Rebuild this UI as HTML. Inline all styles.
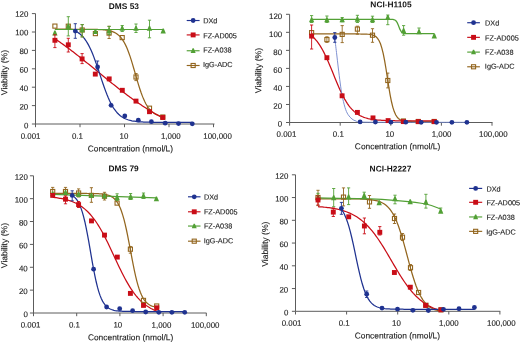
<!DOCTYPE html>
<html><head><meta charset="utf-8"><style>
html,body{margin:0;padding:0;background:#fff;overflow:hidden;}
svg{display:block;font-family:"Liberation Sans", sans-serif;filter:blur(0.25px);}
</style></head><body>
<svg width="520" height="342" viewBox="0 0 520 342">
<rect width="520" height="342" fill="#fff"/>
<path d="M35.50,13.60V124.00" stroke="#5c5c5c" stroke-width="1" fill="none"/>
<path d="M31.90,124.00H35.50" stroke="#5c5c5c" stroke-width="1"/>
<text font-size="7.9" fill="#222222" stroke="#222222" stroke-width="0.12" transform="translate(23.90,128.20) rotate(0.05)">0</text>
<path d="M31.90,105.60H35.50" stroke="#5c5c5c" stroke-width="1"/>
<text font-size="7.9" fill="#222222" stroke="#222222" stroke-width="0.12" transform="translate(19.40,109.62) rotate(0.05)">20</text>
<path d="M31.90,87.20H35.50" stroke="#5c5c5c" stroke-width="1"/>
<text font-size="7.9" fill="#222222" stroke="#222222" stroke-width="0.12" transform="translate(19.40,91.05) rotate(0.05)">40</text>
<path d="M31.90,68.80H35.50" stroke="#5c5c5c" stroke-width="1"/>
<text font-size="7.9" fill="#222222" stroke="#222222" stroke-width="0.12" transform="translate(19.40,72.47) rotate(0.05)">60</text>
<path d="M31.90,50.40H35.50" stroke="#5c5c5c" stroke-width="1"/>
<text font-size="7.9" fill="#222222" stroke="#222222" stroke-width="0.12" transform="translate(19.40,53.90) rotate(0.05)">80</text>
<path d="M31.90,32.00H35.50" stroke="#5c5c5c" stroke-width="1"/>
<text font-size="7.9" fill="#222222" stroke="#222222" stroke-width="0.12" transform="translate(15.15,35.33) rotate(0.05)">100</text>
<path d="M31.90,13.60H35.50" stroke="#5c5c5c" stroke-width="1"/>
<text font-size="7.9" fill="#222222" stroke="#222222" stroke-width="0.12" transform="translate(15.15,16.75) rotate(0.05)">120</text>
<path d="M35.50,124.00H214.50" stroke="#5c5c5c" stroke-width="1" fill="none"/>
<path d="M35.50,124.00V127.20" stroke="#5c5c5c" stroke-width="1"/>
<text font-size="7.9" fill="#222222" stroke="#222222" stroke-width="0.12" transform="translate(20.68,138.75) rotate(0.05)">0.001</text>
<path d="M80.00,124.00V127.20" stroke="#5c5c5c" stroke-width="1"/>
<text font-size="7.9" fill="#222222" stroke="#222222" stroke-width="0.12" transform="translate(71.96,138.75) rotate(0.05)">0.1</text>
<path d="M124.50,124.00V127.20" stroke="#5c5c5c" stroke-width="1"/>
<text font-size="7.9" fill="#222222" stroke="#222222" stroke-width="0.12" transform="translate(119.62,138.75) rotate(0.05)">10</text>
<path d="M169.00,124.00V127.20" stroke="#5c5c5c" stroke-width="1"/>
<text font-size="7.9" fill="#222222" stroke="#222222" stroke-width="0.12" transform="translate(160.91,138.85) rotate(0.05)">1,000</text>
<path d="M213.50,124.00V127.20" stroke="#5c5c5c" stroke-width="1"/>
<text font-size="7.9" fill="#222222" stroke="#222222" stroke-width="0.12" transform="translate(203.32,138.85) rotate(0.05)">100,000</text>
<text font-size="8.5" fill="#222222" stroke="#222222" stroke-width="0.12" transform="translate(87.68,151.53) rotate(0.05) scale(0.99,1)">Concentration (nmol/L)</text>
<text font-size="8.6" fill="#222222" stroke="#222222" stroke-width="0.12" transform="translate(7.25,95.15) rotate(-89.95)">Viability (%)</text>
<text font-size="8.2" font-weight="bold" fill="#141414" transform="translate(108.78,8.93) rotate(0.05) scale(1.02,1)">DMS 53</text>
<path d="M186.70,20.52H199.60" stroke="#1f3290" stroke-width="1.15"/>
<circle cx="193.15" cy="20.52" r="2.4" fill="#1f3290"/>
<text font-size="7.3" fill="#222222" stroke="#222222" stroke-width="0.12" transform="translate(203.20,23.34) rotate(0.05)">DXd</text>
<path d="M186.70,34.92H199.60" stroke="#c90d17" stroke-width="1.15"/>
<rect x="190.70" y="32.47" width="4.90" height="4.90" fill="#c90d17"/>
<text font-size="7.3" fill="#222222" stroke="#222222" stroke-width="0.12" transform="translate(203.20,38.15) rotate(0.05)">FZ-AD005</text>
<path d="M186.70,50.75H199.60" stroke="#52a035" stroke-width="1.15"/>
<path d="M190.65,52.95L195.65,52.95L193.75,48.35L192.55,48.35Z" fill="#52a035"/>
<text font-size="7.3" fill="#222222" stroke="#222222" stroke-width="0.12" transform="translate(203.20,52.57) rotate(0.05)">FZ-A038</text>
<path d="M186.70,65.50H199.60" stroke="#93661f" stroke-width="1.15"/>
<rect x="191.10" y="63.45" width="4.10" height="4.10" fill="none" stroke="#93661f" stroke-width="1.1"/>
<text font-size="7.3" fill="#222222" stroke="#222222" stroke-width="0.12" transform="translate(202.95,66.92) rotate(0.05)">IgG-ADC</text>
<path d="M54.90,29.24 L56.11,29.24 L57.32,29.24 L58.54,29.24 L59.75,29.24 L60.96,29.24 L62.17,29.24 L63.39,29.24 L64.60,29.24 L65.81,29.24 L67.02,29.24 L68.24,29.24 L69.45,29.24 L70.66,29.24 L71.87,29.24 L73.09,29.25 L74.30,29.25 L75.51,29.25 L76.72,29.25 L77.93,29.25 L79.15,29.25 L80.36,29.26 L81.57,29.26 L82.78,29.26 L84.00,29.27 L85.21,29.27 L86.42,29.28 L87.63,29.29 L88.85,29.30 L90.06,29.31 L91.27,29.32 L92.48,29.34 L93.70,29.36 L94.91,29.39 L96.12,29.42 L97.33,29.46 L98.54,29.51 L99.76,29.56 L100.97,29.63 L102.18,29.71 L103.39,29.81 L104.61,29.93 L105.82,30.07 L107.03,30.25 L108.24,30.46 L109.46,30.71 L110.67,31.02 L111.88,31.39 L113.09,31.83 L114.31,32.36 L115.52,32.99 L116.73,33.74 L117.94,34.64 L119.16,35.69 L120.37,36.94 L121.58,38.40 L122.79,40.11 L124.00,42.07 L125.22,44.33 L126.43,46.88 L127.64,49.75 L128.85,52.93 L130.07,56.40 L131.28,60.14 L132.49,64.09 L133.70,68.21 L134.92,72.43 L136.13,76.66 L137.34,80.83 L138.55,84.87 L139.77,88.71 L140.98,92.30 L142.19,95.61 L143.40,98.61 L144.61,101.30 L145.83,103.69 L147.04,105.77 L148.25,107.59 L149.46,109.15 L150.68,110.49 L151.89,111.63 L153.10,112.59 L154.31,113.40 L155.53,114.09 L156.74,114.66 L157.95,115.14 L159.16,115.53 L160.38,115.87 L161.59,116.14 L162.80,116.37" stroke="#93661f" stroke-width="1.25" fill="none"/>
<path d="M54.90,29.40 L163.20,29.40" stroke="#52a035" stroke-width="1.05" fill="none"/>
<path d="M54.90,38.71 L56.11,39.53 L57.32,40.36 L58.54,41.20 L59.75,42.04 L60.96,42.90 L62.17,43.76 L63.39,44.63 L64.60,45.51 L65.81,46.39 L67.02,47.29 L68.24,48.19 L69.45,49.09 L70.66,50.01 L71.87,50.93 L73.09,51.85 L74.30,52.79 L75.51,53.73 L76.72,54.67 L77.93,55.62 L79.15,56.57 L80.36,57.53 L81.57,58.50 L82.78,59.47 L84.00,60.44 L85.21,61.41 L86.42,62.39 L87.63,63.38 L88.85,64.36 L90.06,65.35 L91.27,66.34 L92.48,67.33 L93.70,68.32 L94.91,69.31 L96.12,70.31 L97.33,71.30 L98.54,72.30 L99.76,73.29 L100.97,74.29 L102.18,75.28 L103.39,76.27 L104.61,77.26 L105.82,78.25 L107.03,79.24 L108.24,80.22 L109.46,81.21 L110.67,82.18 L111.88,83.16 L113.09,84.13 L114.31,85.10 L115.52,86.06 L116.73,87.02 L117.94,87.97 L119.16,88.92 L120.37,89.86 L121.58,90.80 L122.79,91.73 L124.00,92.66 L125.22,93.58 L126.43,94.49 L127.64,95.40 L128.85,96.30 L130.07,97.19 L131.28,98.07 L132.49,98.95 L133.70,99.81 L134.92,100.68 L136.13,101.53 L137.34,102.37 L138.55,103.21 L139.77,104.03 L140.98,104.85 L142.19,105.66 L143.40,106.46 L144.61,107.25 L145.83,108.03 L147.04,108.80 L148.25,109.57 L149.46,110.32 L150.68,111.06 L151.89,111.80 L153.10,112.52 L154.31,113.24 L155.53,113.94 L156.74,114.64 L157.95,115.32 L159.16,116.00 L160.38,116.66 L161.59,117.32 L162.80,117.96" stroke="#c90d17" stroke-width="1.25" fill="none"/>
<path d="M75.30,30.96 L76.61,31.64 L77.93,32.44 L79.24,33.37 L80.56,34.44 L81.87,35.67 L83.19,37.09 L84.50,38.70 L85.82,40.53 L87.13,42.59 L88.45,44.90 L89.76,47.46 L91.08,50.27 L92.39,53.34 L93.70,56.64 L95.02,60.16 L96.33,63.86 L97.65,67.71 L98.96,71.65 L100.28,75.63 L101.59,79.60 L102.91,83.50 L104.22,87.29 L105.54,90.91 L106.85,94.33 L108.17,97.52 L109.48,100.47 L110.79,103.17 L112.11,105.61 L113.42,107.80 L114.74,109.75 L116.05,111.47 L117.37,112.99 L118.68,114.31 L120.00,115.47 L121.31,116.47 L122.63,117.33 L123.94,118.08 L125.26,118.72 L126.57,119.27 L127.88,119.73 L129.20,120.14 L130.51,120.48 L131.83,120.77 L133.14,121.02 L134.46,121.23 L135.77,121.41 L137.09,121.56 L138.40,121.69 L139.72,121.80 L141.03,121.89 L142.34,121.97 L143.66,122.03 L144.97,122.09 L146.29,122.14 L147.60,122.18 L148.92,122.21 L150.23,122.24 L151.55,122.27 L152.86,122.29 L154.18,122.30 L155.49,122.32 L156.81,122.33 L158.12,122.34 L159.43,122.35 L160.75,122.36 L162.06,122.37 L163.38,122.37 L164.69,122.38 L166.01,122.38 L167.32,122.38 L168.64,122.39 L169.95,122.39 L171.27,122.39 L172.58,122.39 L173.90,122.39 L175.21,122.39 L176.52,122.40 L177.84,122.40 L179.15,122.40 L180.47,122.40 L181.78,122.40 L183.10,122.40 L184.41,122.40 L185.73,122.40 L187.04,122.40 L188.36,122.40 L189.67,122.40 L190.99,122.40 L192.30,122.40" stroke="#1f3290" stroke-width="1.25" fill="none"/>
<path d="M82.20,24.60V36.90M80.60,24.60H83.80M80.60,36.90H83.80" stroke="#93661f" stroke-width="0.9" fill="none"/>
<path d="M109.10,26.20V38.50M107.50,26.20H110.70M107.50,38.50H110.70" stroke="#93661f" stroke-width="0.9" fill="none"/>
<path d="M136.00,73.50V80.60M134.40,73.50H137.60M134.40,80.60H137.60" stroke="#93661f" stroke-width="0.9" fill="none"/>
<rect x="52.85" y="24.05" width="4.10" height="4.10" fill="none" stroke="#93661f" stroke-width="1.1"/>
<rect x="66.25" y="24.15" width="4.10" height="4.10" fill="none" stroke="#93661f" stroke-width="1.1"/>
<rect x="80.15" y="27.95" width="4.10" height="4.10" fill="none" stroke="#93661f" stroke-width="1.1"/>
<rect x="93.35" y="31.55" width="4.10" height="4.10" fill="none" stroke="#93661f" stroke-width="1.1"/>
<rect x="107.05" y="31.05" width="4.10" height="4.10" fill="none" stroke="#93661f" stroke-width="1.1"/>
<rect x="120.15" y="35.55" width="4.10" height="4.10" fill="none" stroke="#93661f" stroke-width="1.1"/>
<rect x="133.95" y="74.95" width="4.10" height="4.10" fill="none" stroke="#93661f" stroke-width="1.1"/>
<rect x="147.45" y="106.15" width="4.10" height="4.10" fill="none" stroke="#93661f" stroke-width="1.1"/>
<rect x="160.75" y="114.95" width="4.10" height="4.10" fill="none" stroke="#93661f" stroke-width="1.1"/>
<path d="M68.30,16.70V35.90M66.70,16.70H69.90M66.70,35.90H69.90" stroke="#52a035" stroke-width="0.9" fill="none"/>
<path d="M82.20,24.60V36.90M80.60,24.60H83.80M80.60,36.90H83.80" stroke="#52a035" stroke-width="0.9" fill="none"/>
<path d="M109.10,26.50V34.50M107.50,26.50H110.70M107.50,34.50H110.70" stroke="#52a035" stroke-width="0.9" fill="none"/>
<path d="M122.20,25.50V31.50M120.60,25.50H123.80M120.60,31.50H123.80" stroke="#52a035" stroke-width="0.9" fill="none"/>
<path d="M136.00,24.00V32.50M134.40,24.00H137.60M134.40,32.50H137.60" stroke="#52a035" stroke-width="0.9" fill="none"/>
<path d="M149.50,20.20V37.80M147.90,20.20H151.10M147.90,37.80H151.10" stroke="#52a035" stroke-width="0.9" fill="none"/>
<path d="M52.25,35.45L57.55,35.45L55.50,30.50L54.30,30.50Z" fill="#52a035"/>
<path d="M65.65,28.75L70.95,28.75L68.90,23.80L67.70,23.80Z" fill="#52a035"/>
<path d="M79.55,32.35L84.85,32.35L82.80,27.40L81.60,27.40Z" fill="#52a035"/>
<path d="M92.75,33.95L98.05,33.95L96.00,29.00L94.80,29.00Z" fill="#52a035"/>
<path d="M106.45,33.15L111.75,33.15L109.70,28.20L108.50,28.20Z" fill="#52a035"/>
<path d="M119.55,30.85L124.85,30.85L122.80,25.90L121.60,25.90Z" fill="#52a035"/>
<path d="M133.35,30.85L138.65,30.85L136.60,25.90L135.40,25.90Z" fill="#52a035"/>
<path d="M146.85,30.85L152.15,30.85L150.10,25.90L148.90,25.90Z" fill="#52a035"/>
<path d="M160.55,33.45L165.85,33.45L163.80,28.50L162.60,28.50Z" fill="#52a035"/>
<path d="M54.90,34.80V47.60M53.30,34.80H56.50M53.30,47.60H56.50" stroke="#c90d17" stroke-width="0.9" fill="none"/>
<path d="M68.30,38.30V52.00M66.70,38.30H69.90M66.70,52.00H69.90" stroke="#c90d17" stroke-width="0.9" fill="none"/>
<path d="M82.10,53.60V63.60M80.50,53.60H83.70M80.50,63.60H83.70" stroke="#c90d17" stroke-width="0.9" fill="none"/>
<rect x="52.45" y="37.85" width="4.90" height="4.90" fill="#c90d17"/>
<rect x="65.85" y="42.35" width="4.90" height="4.90" fill="#c90d17"/>
<rect x="79.65" y="56.45" width="4.90" height="4.90" fill="#c90d17"/>
<rect x="92.85" y="71.65" width="4.90" height="4.90" fill="#c90d17"/>
<rect x="106.75" y="76.45" width="4.90" height="4.90" fill="#c90d17"/>
<rect x="119.85" y="87.85" width="4.90" height="4.90" fill="#c90d17"/>
<rect x="133.55" y="98.65" width="4.90" height="4.90" fill="#c90d17"/>
<rect x="147.05" y="109.25" width="4.90" height="4.90" fill="#c90d17"/>
<rect x="160.35" y="115.05" width="4.90" height="4.90" fill="#c90d17"/>
<path d="M75.30,23.70V38.30M73.70,23.70H76.90M73.70,38.30H76.90" stroke="#1f3290" stroke-width="0.9" fill="none"/>
<path d="M97.60,61.00V70.00M96.00,61.00H99.20M96.00,70.00H99.20" stroke="#1f3290" stroke-width="0.9" fill="none"/>
<circle cx="75.30" cy="31.10" r="2.4" fill="#1f3290"/>
<circle cx="97.60" cy="67.00" r="2.4" fill="#1f3290"/>
<circle cx="111.10" cy="105.30" r="2.4" fill="#1f3290"/>
<circle cx="124.80" cy="116.00" r="2.4" fill="#1f3290"/>
<circle cx="138.30" cy="120.20" r="2.4" fill="#1f3290"/>
<circle cx="151.40" cy="121.70" r="2.4" fill="#1f3290"/>
<circle cx="165.20" cy="123.20" r="2.4" fill="#1f3290"/>
<circle cx="178.50" cy="123.60" r="2.4" fill="#1f3290"/>
<circle cx="192.30" cy="123.80" r="2.4" fill="#1f3290"/>
<path d="M289.60,14.30V122.50" stroke="#5c5c5c" stroke-width="1" fill="none"/>
<path d="M286.00,122.50H289.60" stroke="#5c5c5c" stroke-width="1"/>
<text font-size="7.9" fill="#222222" stroke="#222222" stroke-width="0.12" transform="translate(277.80,126.55) rotate(0.05)">0</text>
<path d="M286.00,104.47H289.60" stroke="#5c5c5c" stroke-width="1"/>
<text font-size="7.9" fill="#222222" stroke="#222222" stroke-width="0.12" transform="translate(273.30,108.63) rotate(0.05)">20</text>
<path d="M286.00,86.43H289.60" stroke="#5c5c5c" stroke-width="1"/>
<text font-size="7.9" fill="#222222" stroke="#222222" stroke-width="0.12" transform="translate(273.30,90.72) rotate(0.05)">40</text>
<path d="M286.00,68.40H289.60" stroke="#5c5c5c" stroke-width="1"/>
<text font-size="7.9" fill="#222222" stroke="#222222" stroke-width="0.12" transform="translate(273.30,72.80) rotate(0.05)">60</text>
<path d="M286.00,50.37H289.60" stroke="#5c5c5c" stroke-width="1"/>
<text font-size="7.9" fill="#222222" stroke="#222222" stroke-width="0.12" transform="translate(273.30,54.88) rotate(0.05)">80</text>
<path d="M286.00,32.33H289.60" stroke="#5c5c5c" stroke-width="1"/>
<text font-size="7.9" fill="#222222" stroke="#222222" stroke-width="0.12" transform="translate(269.05,36.97) rotate(0.05)">100</text>
<path d="M286.00,14.30H289.60" stroke="#5c5c5c" stroke-width="1"/>
<text font-size="7.9" fill="#222222" stroke="#222222" stroke-width="0.12" transform="translate(269.05,19.05) rotate(0.05)">120</text>
<path d="M289.60,122.50H492.50" stroke="#5c5c5c" stroke-width="1" fill="none"/>
<path d="M289.60,122.50V125.70" stroke="#5c5c5c" stroke-width="1"/>
<text font-size="7.9" fill="#222222" stroke="#222222" stroke-width="0.12" transform="translate(276.62,136.75) rotate(0.05)">0.001</text>
<path d="M340.20,122.50V125.70" stroke="#5c5c5c" stroke-width="1"/>
<text font-size="7.9" fill="#222222" stroke="#222222" stroke-width="0.12" transform="translate(332.85,136.75) rotate(0.05)">0.1</text>
<path d="M390.80,122.50V125.70" stroke="#5c5c5c" stroke-width="1"/>
<text font-size="7.9" fill="#222222" stroke="#222222" stroke-width="0.12" transform="translate(385.45,136.75) rotate(0.05)">10</text>
<path d="M441.40,122.50V125.70" stroke="#5c5c5c" stroke-width="1"/>
<text font-size="7.9" fill="#222222" stroke="#222222" stroke-width="0.12" transform="translate(431.67,136.85) rotate(0.05)">1,000</text>
<path d="M492.00,122.50V125.70" stroke="#5c5c5c" stroke-width="1"/>
<text font-size="7.9" fill="#222222" stroke="#222222" stroke-width="0.12" transform="translate(479.02,136.85) rotate(0.05)">100,000</text>
<text font-size="8.5" fill="#222222" stroke="#222222" stroke-width="0.12" transform="translate(354.82,149.22) rotate(0.05) scale(0.99,1)">Concentration (nmol/L)</text>
<text font-size="8.6" fill="#222222" stroke="#222222" stroke-width="0.12" transform="translate(261.25,93.15) rotate(-89.95)">Viability (%)</text>
<text font-size="8.2" font-weight="bold" fill="#141414" transform="translate(370.35,7.25) rotate(0.05) scale(1.02,1)">NCI-H1105</text>
<path d="M467.20,22.72H479.90" stroke="#1f3290" stroke-width="1.15"/>
<circle cx="473.55" cy="22.72" r="2.4" fill="#1f3290"/>
<text font-size="7.3" fill="#222222" stroke="#222222" stroke-width="0.12" transform="translate(485.10,25.54) rotate(0.05)">DXd</text>
<path d="M467.20,37.35H479.90" stroke="#c90d17" stroke-width="1.15"/>
<rect x="471.10" y="34.90" width="4.90" height="4.90" fill="#c90d17"/>
<text font-size="7.3" fill="#222222" stroke="#222222" stroke-width="0.12" transform="translate(485.10,40.40) rotate(0.05)">FZ-AD005</text>
<path d="M467.20,52.10H479.90" stroke="#52a035" stroke-width="1.15"/>
<path d="M471.05,54.30L476.05,54.30L474.15,49.70L472.95,49.70Z" fill="#52a035"/>
<text font-size="7.3" fill="#222222" stroke="#222222" stroke-width="0.12" transform="translate(485.10,54.62) rotate(0.05)">FZ-A038</text>
<path d="M467.20,66.78H479.90" stroke="#93661f" stroke-width="1.15"/>
<rect x="471.50" y="64.73" width="4.10" height="4.10" fill="none" stroke="#93661f" stroke-width="1.1"/>
<text font-size="7.3" fill="#222222" stroke="#222222" stroke-width="0.12" transform="translate(484.85,68.72) rotate(0.05)">IgG-ADC</text>
<path d="M311.60,33.97 L312.98,33.97 L314.36,33.97 L315.73,33.97 L317.11,33.97 L318.49,33.97 L319.87,33.97 L321.24,33.97 L322.62,33.97 L324.00,33.97 L325.38,33.97 L326.75,33.97 L328.13,33.97 L329.51,33.97 L330.89,33.97 L332.26,33.97 L333.64,33.97 L335.02,33.97 L336.40,33.97 L337.77,33.97 L339.15,33.97 L340.53,33.97 L341.91,33.97 L343.28,33.97 L344.66,33.97 L346.04,33.97 L347.42,33.97 L348.79,33.98 L350.17,33.98 L351.55,33.98 L352.93,33.98 L354.30,33.98 L355.68,33.98 L357.06,33.98 L358.44,33.99 L359.81,34.00 L361.19,34.01 L362.57,34.03 L363.95,34.05 L365.32,34.09 L366.70,34.15 L368.08,34.25 L369.46,34.38 L370.83,34.59 L372.21,34.90 L373.59,35.37 L374.97,36.06 L376.34,37.09 L377.72,38.59 L379.10,40.76 L380.48,43.83 L381.85,48.05 L383.23,53.62 L384.61,60.59 L385.99,68.77 L387.36,77.66 L388.74,86.56 L390.12,94.77 L391.50,101.77 L392.87,107.37 L394.25,111.62 L395.63,114.72 L397.01,116.91 L398.38,118.43 L399.76,119.47 L401.14,120.17 L402.52,120.64 L403.89,120.95 L405.27,121.16 L406.65,121.30 L408.03,121.39 L409.40,121.45 L410.78,121.49 L412.16,121.52 L413.54,121.54 L414.91,121.55 L416.29,121.56 L417.67,121.56 L419.05,121.57 L420.42,121.57 L421.80,121.57 L423.18,121.57 L424.56,121.57 L425.93,121.57 L427.31,121.57 L428.69,121.57 L430.07,121.57 L431.44,121.57 L432.82,121.57 L434.20,121.57" stroke="#93661f" stroke-width="1.25" fill="none"/>
<path d="M311.60,19.30 L312.98,19.30 L314.36,19.30 L315.74,19.30 L317.11,19.30 L318.49,19.30 L319.87,19.30 L321.25,19.30 L322.63,19.30 L324.01,19.30 L325.39,19.30 L326.77,19.30 L328.14,19.30 L329.52,19.30 L330.90,19.30 L332.28,19.30 L333.66,19.30 L335.04,19.30 L336.42,19.30 L337.79,19.30 L339.17,19.30 L340.55,19.30 L341.93,19.30 L343.31,19.30 L344.69,19.30 L346.07,19.30 L347.44,19.30 L348.82,19.30 L350.20,19.30 L351.58,19.30 L352.96,19.30 L354.34,19.30 L355.72,19.30 L357.10,19.30 L358.47,19.30 L359.85,19.30 L361.23,19.30 L362.61,19.30 L363.99,19.30 L365.37,19.30 L366.75,19.30 L368.12,19.30 L369.50,19.30 L370.88,19.30 L372.26,19.30 L373.64,19.30 L375.02,19.30 L376.40,19.30 L377.78,19.30 L379.15,19.30 L380.53,19.30 L381.91,19.30 L383.29,19.30 L384.67,19.30 L386.05,19.30 L387.43,19.30 L388.80,19.31 L390.18,19.32 L391.56,19.36 L392.94,19.48 L394.32,19.78 L395.70,20.58 L397.08,22.40 L398.46,25.57 L399.83,29.16 L401.21,31.67 L402.59,32.91 L403.97,33.41 L405.35,33.59 L406.73,33.66 L408.11,33.69 L409.48,33.70 L410.86,33.70 L412.24,33.70 L413.62,33.70 L415.00,33.70 L416.38,33.70 L417.76,33.70 L419.13,33.70 L420.51,33.70 L421.89,33.70 L423.27,33.70 L424.65,33.70 L426.03,33.70 L427.41,33.70 L428.79,33.70 L430.16,33.70 L431.54,33.70 L432.92,33.70 L434.30,33.70" stroke="#52a035" stroke-width="1.25" fill="none"/>
<path d="M311.60,35.72 L312.98,36.93 L314.36,38.28 L315.73,39.79 L317.11,41.47 L318.49,43.32 L319.87,45.37 L321.24,47.60 L322.62,50.02 L324.00,52.62 L325.38,55.41 L326.75,58.35 L328.13,61.45 L329.51,64.67 L330.89,67.98 L332.26,71.35 L333.64,74.75 L335.02,78.14 L336.40,81.49 L337.77,84.77 L339.15,87.93 L340.53,90.96 L341.91,93.84 L343.28,96.55 L344.66,99.07 L346.04,101.41 L347.42,103.55 L348.79,105.51 L350.17,107.29 L351.55,108.89 L352.93,110.33 L354.30,111.61 L355.68,112.76 L357.06,113.77 L358.44,114.67 L359.81,115.46 L361.19,116.16 L362.57,116.77 L363.95,117.30 L365.32,117.77 L366.70,118.18 L368.08,118.54 L369.46,118.85 L370.83,119.12 L372.21,119.35 L373.59,119.56 L374.97,119.74 L376.34,119.89 L377.72,120.02 L379.10,120.14 L380.48,120.24 L381.85,120.33 L383.23,120.40 L384.61,120.47 L385.99,120.52 L387.36,120.57 L388.74,120.62 L390.12,120.65 L391.50,120.68 L392.87,120.71 L394.25,120.74 L395.63,120.76 L397.01,120.77 L398.38,120.79 L399.76,120.80 L401.14,120.81 L402.52,120.82 L403.89,120.83 L405.27,120.84 L406.65,120.85 L408.03,120.85 L409.40,120.86 L410.78,120.86 L412.16,120.86 L413.54,120.87 L414.91,120.87 L416.29,120.87 L417.67,120.87 L419.05,120.88 L420.42,120.88 L421.80,120.88 L423.18,120.88 L424.56,120.88 L425.93,120.88 L427.31,120.88 L428.69,120.88 L430.07,120.88 L431.44,120.88 L432.82,120.89 L434.20,120.89" stroke="#c90d17" stroke-width="1.25" fill="none"/>
<path d="M334.80,38.50 C335.08,40.83 335.92,47.58 336.50,52.50 C337.08,57.42 337.68,62.92 338.30,68.00 C338.92,73.08 339.58,78.50 340.20,83.00 C340.82,87.50 341.20,90.92 342.00,95.00 C342.80,99.08 344.00,104.25 345.00,107.50 C346.00,110.75 346.83,112.58 348.00,114.50 C349.17,116.42 350.67,117.92 352.00,119.00 C353.33,120.08 354.33,120.48 356.00,121.00 C357.67,121.52 354.67,121.88 362.00,122.10 C369.33,122.32 382.52,122.27 400.00,122.30 C417.48,122.33 455.75,122.30 466.90,122.30" stroke="#6f84cc" stroke-width="0.9" fill="none"/>
<path d="M326.90,36.80V42.40M325.30,36.80H328.50M325.30,42.40H328.50" stroke="#93661f" stroke-width="0.9" fill="none"/>
<path d="M342.20,25.60V42.60M340.60,25.60H343.80M340.60,42.60H343.80" stroke="#93661f" stroke-width="0.9" fill="none"/>
<path d="M357.40,26.20V34.20M355.80,26.20H359.00M355.80,34.20H359.00" stroke="#93661f" stroke-width="0.9" fill="none"/>
<path d="M372.50,28.70V42.30M370.90,28.70H374.10M370.90,42.30H374.10" stroke="#93661f" stroke-width="0.9" fill="none"/>
<path d="M387.80,73.10V87.90M386.20,73.10H389.40M386.20,87.90H389.40" stroke="#93661f" stroke-width="0.9" fill="none"/>
<rect x="309.55" y="30.55" width="4.10" height="4.10" fill="none" stroke="#93661f" stroke-width="1.1"/>
<rect x="324.85" y="37.55" width="4.10" height="4.10" fill="none" stroke="#93661f" stroke-width="1.1"/>
<rect x="340.15" y="32.35" width="4.10" height="4.10" fill="none" stroke="#93661f" stroke-width="1.1"/>
<rect x="355.35" y="27.05" width="4.10" height="4.10" fill="none" stroke="#93661f" stroke-width="1.1"/>
<rect x="370.45" y="33.15" width="4.10" height="4.10" fill="none" stroke="#93661f" stroke-width="1.1"/>
<rect x="385.75" y="78.45" width="4.10" height="4.10" fill="none" stroke="#93661f" stroke-width="1.1"/>
<rect x="401.35" y="118.95" width="4.10" height="4.10" fill="none" stroke="#93661f" stroke-width="1.1"/>
<rect x="416.25" y="119.45" width="4.10" height="4.10" fill="none" stroke="#93661f" stroke-width="1.1"/>
<rect x="432.15" y="119.45" width="4.10" height="4.10" fill="none" stroke="#93661f" stroke-width="1.1"/>
<path d="M311.60,15.60V22.50M310.00,15.60H313.20M310.00,22.50H313.20" stroke="#52a035" stroke-width="0.9" fill="none"/>
<path d="M326.90,16.00V22.50M325.30,16.00H328.50M325.30,22.50H328.50" stroke="#52a035" stroke-width="0.9" fill="none"/>
<path d="M342.20,17.50V21.80M340.60,17.50H343.80M340.60,21.80H343.80" stroke="#52a035" stroke-width="0.9" fill="none"/>
<path d="M357.40,15.30V22.50M355.80,15.30H359.00M355.80,22.50H359.00" stroke="#52a035" stroke-width="0.9" fill="none"/>
<path d="M372.50,16.20V22.50M370.90,16.20H374.10M370.90,22.50H374.10" stroke="#52a035" stroke-width="0.9" fill="none"/>
<path d="M387.80,15.00V24.70M386.20,15.00H389.40M386.20,24.70H389.40" stroke="#52a035" stroke-width="0.9" fill="none"/>
<path d="M403.60,25.60V35.20M402.00,25.60H405.20M402.00,35.20H405.20" stroke="#52a035" stroke-width="0.9" fill="none"/>
<path d="M419.00,28.00V33.50M417.40,28.00H420.60M417.40,33.50H420.60" stroke="#52a035" stroke-width="0.9" fill="none"/>
<path d="M308.95,22.35L314.25,22.35L312.20,17.40L311.00,17.40Z" fill="#52a035"/>
<path d="M324.25,22.35L329.55,22.35L327.50,17.40L326.30,17.40Z" fill="#52a035"/>
<path d="M339.55,22.35L344.85,22.35L342.80,17.40L341.60,17.40Z" fill="#52a035"/>
<path d="M354.75,21.75L360.05,21.75L358.00,16.80L356.80,16.80Z" fill="#52a035"/>
<path d="M369.85,22.15L375.15,22.15L373.10,17.20L371.90,17.20Z" fill="#52a035"/>
<path d="M385.15,20.05L390.45,20.05L388.40,15.10L387.20,15.10Z" fill="#52a035"/>
<path d="M400.95,33.15L406.25,33.15L404.20,28.20L403.00,28.20Z" fill="#52a035"/>
<path d="M416.35,34.35L421.65,34.35L419.60,29.40L418.40,29.40Z" fill="#52a035"/>
<path d="M431.65,38.45L436.95,38.45L434.90,33.50L433.70,33.50Z" fill="#52a035"/>
<path d="M311.60,25.00V49.00M310.00,25.00H313.20M310.00,49.00H313.20" stroke="#c90d17" stroke-width="0.9" fill="none"/>
<rect x="309.15" y="33.65" width="4.90" height="4.90" fill="#c90d17"/>
<rect x="324.45" y="55.25" width="4.90" height="4.90" fill="#c90d17"/>
<rect x="339.65" y="93.35" width="4.90" height="4.90" fill="#c90d17"/>
<rect x="354.95" y="109.95" width="4.90" height="4.90" fill="#c90d17"/>
<rect x="370.55" y="115.45" width="4.90" height="4.90" fill="#c90d17"/>
<rect x="385.65" y="118.15" width="4.90" height="4.90" fill="#c90d17"/>
<rect x="400.95" y="119.15" width="4.90" height="4.90" fill="#c90d17"/>
<rect x="415.85" y="119.15" width="4.90" height="4.90" fill="#c90d17"/>
<rect x="431.75" y="119.15" width="4.90" height="4.90" fill="#c90d17"/>
<path d="M334.80,32.60V42.30M333.20,32.60H336.40M333.20,42.30H336.40" stroke="#1f3290" stroke-width="0.9" fill="none"/>
<circle cx="334.80" cy="37.50" r="2.4" fill="#1f3290"/>
<circle cx="360.10" cy="121.90" r="2.4" fill="#1f3290"/>
<circle cx="375.40" cy="122.00" r="2.4" fill="#1f3290"/>
<circle cx="390.90" cy="122.20" r="2.4" fill="#1f3290"/>
<circle cx="405.80" cy="122.20" r="2.4" fill="#1f3290"/>
<circle cx="421.20" cy="122.30" r="2.4" fill="#1f3290"/>
<circle cx="436.50" cy="122.30" r="2.4" fill="#1f3290"/>
<circle cx="451.90" cy="122.30" r="2.4" fill="#1f3290"/>
<circle cx="466.90" cy="122.30" r="2.4" fill="#1f3290"/>
<path d="M33.50,175.80V313.00" stroke="#5c5c5c" stroke-width="1" fill="none"/>
<path d="M29.90,313.00H33.50" stroke="#5c5c5c" stroke-width="1"/>
<text font-size="7.9" fill="#222222" stroke="#222222" stroke-width="0.12" transform="translate(23.40,316.95) rotate(0.05)">0</text>
<path d="M29.90,290.13H33.50" stroke="#5c5c5c" stroke-width="1"/>
<text font-size="7.9" fill="#222222" stroke="#222222" stroke-width="0.12" transform="translate(18.90,294.08) rotate(0.05)">20</text>
<path d="M29.90,267.27H33.50" stroke="#5c5c5c" stroke-width="1"/>
<text font-size="7.9" fill="#222222" stroke="#222222" stroke-width="0.12" transform="translate(18.90,271.22) rotate(0.05)">40</text>
<path d="M29.90,244.40H33.50" stroke="#5c5c5c" stroke-width="1"/>
<text font-size="7.9" fill="#222222" stroke="#222222" stroke-width="0.12" transform="translate(18.90,248.35) rotate(0.05)">60</text>
<path d="M29.90,221.53H33.50" stroke="#5c5c5c" stroke-width="1"/>
<text font-size="7.9" fill="#222222" stroke="#222222" stroke-width="0.12" transform="translate(18.90,225.48) rotate(0.05)">80</text>
<path d="M29.90,198.67H33.50" stroke="#5c5c5c" stroke-width="1"/>
<text font-size="7.9" fill="#222222" stroke="#222222" stroke-width="0.12" transform="translate(14.65,202.62) rotate(0.05)">100</text>
<path d="M29.90,175.80H33.50" stroke="#5c5c5c" stroke-width="1"/>
<text font-size="7.9" fill="#222222" stroke="#222222" stroke-width="0.12" transform="translate(14.65,179.75) rotate(0.05)">120</text>
<path d="M33.50,313.00H206.50" stroke="#5c5c5c" stroke-width="1" fill="none"/>
<path d="M33.50,313.00V316.20" stroke="#5c5c5c" stroke-width="1"/>
<text font-size="7.9" fill="#222222" stroke="#222222" stroke-width="0.12" transform="translate(20.73,327.55) rotate(0.05)">0.001</text>
<path d="M76.70,313.00V316.20" stroke="#5c5c5c" stroke-width="1"/>
<text font-size="7.9" fill="#222222" stroke="#222222" stroke-width="0.12" transform="translate(68.89,327.55) rotate(0.05)">0.1</text>
<path d="M119.90,313.00V316.20" stroke="#5c5c5c" stroke-width="1"/>
<text font-size="7.9" fill="#222222" stroke="#222222" stroke-width="0.12" transform="translate(113.43,327.55) rotate(0.05)">10</text>
<path d="M163.10,313.00V316.20" stroke="#5c5c5c" stroke-width="1"/>
<text font-size="7.9" fill="#222222" stroke="#222222" stroke-width="0.12" transform="translate(151.59,327.65) rotate(0.05)">1,000</text>
<path d="M206.30,313.00V316.20" stroke="#5c5c5c" stroke-width="1"/>
<text font-size="7.9" fill="#222222" stroke="#222222" stroke-width="0.12" transform="translate(190.88,327.65) rotate(0.05)">100,000</text>
<text font-size="8.5" fill="#222222" stroke="#222222" stroke-width="0.12" transform="translate(87.88,340.23) rotate(0.05) scale(0.99,1)">Concentration (nmol/L)</text>
<text font-size="8.6" fill="#222222" stroke="#222222" stroke-width="0.12" transform="translate(7.25,268.15) rotate(-89.95)">Viability (%)</text>
<text font-size="8.2" font-weight="bold" fill="#141414" transform="translate(108.58,171.32) rotate(0.05) scale(1.02,1)">DMS 79</text>
<path d="M188.00,196.80H200.50" stroke="#1f3290" stroke-width="1.15"/>
<circle cx="194.25" cy="196.80" r="2.4" fill="#1f3290"/>
<text font-size="7.3" fill="#222222" stroke="#222222" stroke-width="0.12" transform="translate(203.90,199.48) rotate(0.05)">DXd</text>
<path d="M188.00,211.80H200.50" stroke="#c90d17" stroke-width="1.15"/>
<rect x="191.80" y="209.35" width="4.90" height="4.90" fill="#c90d17"/>
<text font-size="7.3" fill="#222222" stroke="#222222" stroke-width="0.12" transform="translate(203.90,214.35) rotate(0.05)">FZ-AD005</text>
<path d="M188.00,226.05H200.50" stroke="#52a035" stroke-width="1.15"/>
<path d="M191.75,228.25L196.75,228.25L194.85,223.65L193.65,223.65Z" fill="#52a035"/>
<text font-size="7.3" fill="#222222" stroke="#222222" stroke-width="0.12" transform="translate(203.90,228.60) rotate(0.05)">FZ-A038</text>
<path d="M188.00,241.18H200.50" stroke="#93661f" stroke-width="1.15"/>
<rect x="192.20" y="239.13" width="4.10" height="4.10" fill="none" stroke="#93661f" stroke-width="1.1"/>
<text font-size="7.3" fill="#222222" stroke="#222222" stroke-width="0.12" transform="translate(203.65,243.15) rotate(0.05)">IgG-ADC</text>
<path d="M52.70,193.46 L53.87,193.46 L55.04,193.46 L56.21,193.46 L57.37,193.46 L58.54,193.46 L59.71,193.46 L60.88,193.46 L62.05,193.46 L63.22,193.46 L64.39,193.46 L65.55,193.46 L66.72,193.46 L67.89,193.46 L69.06,193.46 L70.23,193.47 L71.40,193.47 L72.57,193.47 L73.73,193.47 L74.90,193.47 L76.07,193.47 L77.24,193.47 L78.41,193.47 L79.58,193.47 L80.74,193.47 L81.91,193.48 L83.08,193.48 L84.25,193.48 L85.42,193.49 L86.59,193.49 L87.76,193.50 L88.92,193.51 L90.09,193.52 L91.26,193.54 L92.43,193.56 L93.60,193.58 L94.77,193.61 L95.94,193.64 L97.10,193.68 L98.27,193.74 L99.44,193.80 L100.61,193.89 L101.78,193.99 L102.95,194.12 L104.12,194.28 L105.28,194.47 L106.45,194.72 L107.62,195.02 L108.79,195.39 L109.96,195.85 L111.13,196.42 L112.30,197.12 L113.46,197.98 L114.63,199.03 L115.80,200.31 L116.97,201.85 L118.14,203.72 L119.31,205.95 L120.48,208.60 L121.64,211.71 L122.81,215.32 L123.98,219.45 L125.15,224.10 L126.32,229.24 L127.49,234.83 L128.66,240.76 L129.82,246.93 L130.99,253.18 L132.16,259.38 L133.33,265.38 L134.50,271.05 L135.67,276.31 L136.83,281.07 L138.00,285.32 L139.17,289.05 L140.34,292.27 L141.51,295.02 L142.68,297.34 L143.85,299.29 L145.01,300.90 L146.18,302.24 L147.35,303.34 L148.52,304.24 L149.69,304.97 L150.86,305.57 L152.03,306.05 L153.19,306.44 L154.36,306.76 L155.53,307.01 L156.70,307.22" stroke="#93661f" stroke-width="1.25" fill="none"/>
<path d="M52.70,194.30 L156.40,197.90" stroke="#52a035" stroke-width="1.25" fill="none"/>
<path d="M52.70,197.32 L53.87,197.45 L55.04,197.58 L56.21,197.73 L57.38,197.90 L58.55,198.07 L59.72,198.26 L60.89,198.47 L62.06,198.69 L63.23,198.93 L64.40,199.20 L65.57,199.48 L66.74,199.79 L67.91,200.12 L69.08,200.48 L70.24,200.86 L71.41,201.28 L72.58,201.73 L73.75,202.22 L74.92,202.75 L76.09,203.31 L77.26,203.92 L78.43,204.57 L79.60,205.28 L80.77,206.03 L81.94,206.84 L83.11,207.70 L84.28,208.63 L85.45,209.61 L86.62,210.67 L87.79,211.79 L88.96,212.99 L90.13,214.25 L91.30,215.60 L92.47,217.02 L93.64,218.52 L94.81,220.10 L95.98,221.76 L97.15,223.51 L98.32,225.33 L99.49,227.23 L100.66,229.22 L101.83,231.27 L103.00,233.40 L104.17,235.60 L105.33,237.86 L106.50,240.18 L107.67,242.55 L108.84,244.97 L110.01,247.43 L111.18,249.91 L112.35,252.42 L113.52,254.94 L114.69,257.46 L115.86,259.98 L117.03,262.49 L118.20,264.97 L119.37,267.42 L120.54,269.84 L121.71,272.21 L122.88,274.53 L124.05,276.79 L125.22,278.99 L126.39,281.12 L127.56,283.17 L128.73,285.15 L129.90,287.05 L131.07,288.88 L132.24,290.62 L133.41,292.28 L134.58,293.86 L135.75,295.36 L136.92,296.78 L138.09,298.12 L139.26,299.39 L140.42,300.58 L141.59,301.70 L142.76,302.76 L143.93,303.74 L145.10,304.67 L146.27,305.53 L147.44,306.34 L148.61,307.09 L149.78,307.79 L150.95,308.45 L152.12,309.05 L153.29,309.62 L154.46,310.14 L155.63,310.63 L156.80,311.08" stroke="#c90d17" stroke-width="1.25" fill="none"/>
<path d="M72.20,195.40 L73.46,196.27 L74.73,197.37 L75.99,198.75 L77.26,200.47 L78.52,202.59 L79.79,205.20 L81.05,208.36 L82.32,212.14 L83.58,216.59 L84.85,221.74 L86.11,227.57 L87.38,234.02 L88.64,240.96 L89.90,248.21 L91.17,255.58 L92.43,262.83 L93.70,269.76 L94.96,276.20 L96.23,282.02 L97.49,287.16 L98.76,291.61 L100.02,295.38 L101.29,298.53 L102.55,301.13 L103.82,303.24 L105.08,304.96 L106.34,306.33 L107.61,307.43 L108.87,308.30 L110.14,308.99 L111.40,309.54 L112.67,309.96 L113.93,310.30 L115.20,310.57 L116.46,310.77 L117.73,310.94 L118.99,311.06 L120.26,311.16 L121.52,311.24 L122.78,311.30 L124.05,311.35 L125.31,311.39 L126.58,311.42 L127.84,311.44 L129.11,311.46 L130.37,311.47 L131.64,311.48 L132.90,311.49 L134.17,311.50 L135.43,311.50 L136.69,311.51 L137.96,311.51 L139.22,311.51 L140.49,311.51 L141.75,311.52 L143.02,311.52 L144.28,311.52 L145.55,311.52 L146.81,311.52 L148.08,311.52 L149.34,311.52 L150.61,311.52 L151.87,311.52 L153.13,311.52 L154.40,311.52 L155.66,311.52 L156.93,311.52 L158.19,311.52 L159.46,311.52 L160.72,311.52 L161.99,311.52 L163.25,311.52 L164.52,311.52 L165.78,311.52 L167.05,311.52 L168.31,311.52 L169.57,311.52 L170.84,311.52 L172.10,311.52 L173.37,311.52 L174.63,311.52 L175.90,311.52 L177.16,311.52 L178.43,311.52 L179.69,311.52 L180.96,311.52 L182.22,311.52 L183.49,311.52 L184.75,311.52" stroke="#1f3290" stroke-width="1.25" fill="none"/>
<path d="M52.70,187.40V195.00M51.10,187.40H54.30M51.10,195.00H54.30" stroke="#93661f" stroke-width="0.9" fill="none"/>
<path d="M65.50,187.40V195.00M63.90,187.40H67.10M63.90,195.00H67.10" stroke="#93661f" stroke-width="0.9" fill="none"/>
<path d="M78.60,188.90V197.00M77.00,188.90H80.20M77.00,197.00H80.20" stroke="#93661f" stroke-width="0.9" fill="none"/>
<path d="M91.40,187.70V202.30M89.80,187.70H93.00M89.80,202.30H93.00" stroke="#93661f" stroke-width="0.9" fill="none"/>
<path d="M104.50,192.30V200.00M102.90,192.30H106.10M102.90,200.00H106.10" stroke="#93661f" stroke-width="0.9" fill="none"/>
<path d="M130.40,246.60V253.20M128.80,246.60H132.00M128.80,253.20H132.00" stroke="#93661f" stroke-width="0.9" fill="none"/>
<rect x="50.65" y="189.45" width="4.10" height="4.10" fill="none" stroke="#93661f" stroke-width="1.1"/>
<rect x="63.45" y="189.45" width="4.10" height="4.10" fill="none" stroke="#93661f" stroke-width="1.1"/>
<rect x="76.55" y="190.95" width="4.10" height="4.10" fill="none" stroke="#93661f" stroke-width="1.1"/>
<rect x="89.35" y="193.35" width="4.10" height="4.10" fill="none" stroke="#93661f" stroke-width="1.1"/>
<rect x="102.45" y="194.15" width="4.10" height="4.10" fill="none" stroke="#93661f" stroke-width="1.1"/>
<rect x="115.05" y="201.05" width="4.10" height="4.10" fill="none" stroke="#93661f" stroke-width="1.1"/>
<rect x="128.35" y="247.15" width="4.10" height="4.10" fill="none" stroke="#93661f" stroke-width="1.1"/>
<rect x="141.45" y="298.35" width="4.10" height="4.10" fill="none" stroke="#93661f" stroke-width="1.1"/>
<rect x="154.65" y="303.95" width="4.10" height="4.10" fill="none" stroke="#93661f" stroke-width="1.1"/>
<path d="M117.10,193.80V200.50M115.50,193.80H118.70M115.50,200.50H118.70" stroke="#52a035" stroke-width="0.9" fill="none"/>
<path d="M130.60,193.50V199.50M129.00,193.50H132.20M129.00,199.50H132.20" stroke="#52a035" stroke-width="0.9" fill="none"/>
<path d="M143.50,193.00V198.50M141.90,193.00H145.10M141.90,198.50H145.10" stroke="#52a035" stroke-width="0.9" fill="none"/>
<path d="M50.05,196.35L55.35,196.35L53.30,191.40L52.10,191.40Z" fill="#52a035"/>
<path d="M62.85,194.95L68.15,194.95L66.10,190.00L64.90,190.00Z" fill="#52a035"/>
<path d="M75.95,196.95L81.25,196.95L79.20,192.00L78.00,192.00Z" fill="#52a035"/>
<path d="M88.75,197.95L94.05,197.95L92.00,193.00L90.80,193.00Z" fill="#52a035"/>
<path d="M101.85,198.55L107.15,198.55L105.10,193.60L103.90,193.60Z" fill="#52a035"/>
<path d="M114.45,200.05L119.75,200.05L117.70,195.10L116.50,195.10Z" fill="#52a035"/>
<path d="M127.95,199.45L133.25,199.45L131.20,194.50L130.00,194.50Z" fill="#52a035"/>
<path d="M140.85,198.55L146.15,198.55L144.10,193.60L142.90,193.60Z" fill="#52a035"/>
<path d="M153.75,201.35L159.05,201.35L157.00,196.40L155.80,196.40Z" fill="#52a035"/>
<path d="M65.50,196.00V203.80M63.90,196.00H67.10M63.90,203.80H67.10" stroke="#c90d17" stroke-width="0.9" fill="none"/>
<path d="M78.60,201.50V207.50M77.00,201.50H80.20M77.00,207.50H80.20" stroke="#c90d17" stroke-width="0.9" fill="none"/>
<rect x="50.25" y="192.95" width="4.90" height="4.90" fill="#c90d17"/>
<rect x="63.05" y="196.75" width="4.90" height="4.90" fill="#c90d17"/>
<rect x="76.15" y="202.15" width="4.90" height="4.90" fill="#c90d17"/>
<rect x="89.05" y="218.45" width="4.90" height="4.90" fill="#c90d17"/>
<rect x="102.05" y="232.65" width="4.90" height="4.90" fill="#c90d17"/>
<rect x="114.85" y="254.65" width="4.90" height="4.90" fill="#c90d17"/>
<rect x="127.95" y="290.95" width="4.90" height="4.90" fill="#c90d17"/>
<rect x="141.05" y="302.95" width="4.90" height="4.90" fill="#c90d17"/>
<rect x="154.35" y="305.35" width="4.90" height="4.90" fill="#c90d17"/>
<path d="M72.20,190.80V200.80M70.60,190.80H73.80M70.60,200.80H73.80" stroke="#1f3290" stroke-width="0.9" fill="none"/>
<circle cx="72.20" cy="195.40" r="2.4" fill="#1f3290"/>
<circle cx="93.60" cy="269.20" r="2.4" fill="#1f3290"/>
<circle cx="106.60" cy="307.00" r="2.4" fill="#1f3290"/>
<circle cx="119.70" cy="308.70" r="2.4" fill="#1f3290"/>
<circle cx="132.60" cy="310.70" r="2.4" fill="#1f3290"/>
<circle cx="145.70" cy="312.00" r="2.4" fill="#1f3290"/>
<circle cx="158.80" cy="312.30" r="2.4" fill="#1f3290"/>
<circle cx="171.90" cy="312.30" r="2.4" fill="#1f3290"/>
<circle cx="184.75" cy="312.30" r="2.4" fill="#1f3290"/>
<path d="M295.50,174.80V311.30" stroke="#5c5c5c" stroke-width="1" fill="none"/>
<path d="M291.90,311.30H295.50" stroke="#5c5c5c" stroke-width="1"/>
<text font-size="7.9" fill="#222222" stroke="#222222" stroke-width="0.12" transform="translate(283.90,315.35) rotate(0.05)">0</text>
<path d="M291.90,288.55H295.50" stroke="#5c5c5c" stroke-width="1"/>
<text font-size="7.9" fill="#222222" stroke="#222222" stroke-width="0.12" transform="translate(279.40,292.60) rotate(0.05)">20</text>
<path d="M291.90,265.80H295.50" stroke="#5c5c5c" stroke-width="1"/>
<text font-size="7.9" fill="#222222" stroke="#222222" stroke-width="0.12" transform="translate(279.40,269.85) rotate(0.05)">40</text>
<path d="M291.90,243.05H295.50" stroke="#5c5c5c" stroke-width="1"/>
<text font-size="7.9" fill="#222222" stroke="#222222" stroke-width="0.12" transform="translate(279.40,247.10) rotate(0.05)">60</text>
<path d="M291.90,220.30H295.50" stroke="#5c5c5c" stroke-width="1"/>
<text font-size="7.9" fill="#222222" stroke="#222222" stroke-width="0.12" transform="translate(279.40,224.35) rotate(0.05)">80</text>
<path d="M291.90,197.55H295.50" stroke="#5c5c5c" stroke-width="1"/>
<text font-size="7.9" fill="#222222" stroke="#222222" stroke-width="0.12" transform="translate(275.15,201.60) rotate(0.05)">100</text>
<path d="M291.90,174.80H295.50" stroke="#5c5c5c" stroke-width="1"/>
<text font-size="7.9" fill="#222222" stroke="#222222" stroke-width="0.12" transform="translate(275.15,178.85) rotate(0.05)">120</text>
<path d="M295.50,311.30H500.30" stroke="#5c5c5c" stroke-width="1" fill="none"/>
<path d="M295.50,311.30V314.50" stroke="#5c5c5c" stroke-width="1"/>
<text font-size="7.9" fill="#222222" stroke="#222222" stroke-width="0.12" transform="translate(281.73,325.65) rotate(0.05)">0.001</text>
<path d="M346.60,311.30V314.50" stroke="#5c5c5c" stroke-width="1"/>
<text font-size="7.9" fill="#222222" stroke="#222222" stroke-width="0.12" transform="translate(338.68,325.65) rotate(0.05)">0.1</text>
<path d="M397.70,311.30V314.50" stroke="#5c5c5c" stroke-width="1"/>
<text font-size="7.9" fill="#222222" stroke="#222222" stroke-width="0.12" transform="translate(392.00,325.65) rotate(0.05)">10</text>
<path d="M448.80,311.30V314.50" stroke="#5c5c5c" stroke-width="1"/>
<text font-size="7.9" fill="#222222" stroke="#222222" stroke-width="0.12" transform="translate(438.95,325.75) rotate(0.05)">1,000</text>
<path d="M499.90,311.30V314.50" stroke="#5c5c5c" stroke-width="1"/>
<text font-size="7.9" fill="#222222" stroke="#222222" stroke-width="0.12" transform="translate(487.02,325.75) rotate(0.05)">100,000</text>
<text font-size="8.5" fill="#222222" stroke="#222222" stroke-width="0.12" transform="translate(354.68,338.52) rotate(0.05) scale(0.99,1)">Concentration (nmol/L)</text>
<text font-size="8.6" fill="#222222" stroke="#222222" stroke-width="0.12" transform="translate(268.05,266.80) rotate(-89.95)">Viability (%)</text>
<text font-size="8.2" font-weight="bold" fill="#141414" transform="translate(369.60,171.43) rotate(0.05) scale(1.02,1)">NCI-H2227</text>
<path d="M469.10,188.40H482.20" stroke="#1f3290" stroke-width="1.15"/>
<circle cx="475.65" cy="188.40" r="2.4" fill="#1f3290"/>
<text font-size="7.3" fill="#222222" stroke="#222222" stroke-width="0.12" transform="translate(486.40,191.43) rotate(0.05)">DXd</text>
<path d="M469.10,202.30H482.20" stroke="#c90d17" stroke-width="1.15"/>
<rect x="473.20" y="199.85" width="4.90" height="4.90" fill="#c90d17"/>
<text font-size="7.3" fill="#222222" stroke="#222222" stroke-width="0.12" transform="translate(486.40,205.20) rotate(0.05)">FZ-AD005</text>
<path d="M469.10,216.95H482.20" stroke="#52a035" stroke-width="1.15"/>
<path d="M473.15,219.15L478.15,219.15L476.25,214.55L475.05,214.55Z" fill="#52a035"/>
<text font-size="7.3" fill="#222222" stroke="#222222" stroke-width="0.12" transform="translate(486.40,219.85) rotate(0.05)">FZ-A038</text>
<path d="M469.10,231.35H482.20" stroke="#93661f" stroke-width="1.15"/>
<rect x="473.60" y="229.30" width="4.10" height="4.10" fill="none" stroke="#93661f" stroke-width="1.1"/>
<text font-size="7.3" fill="#222222" stroke="#222222" stroke-width="0.12" transform="translate(486.15,234.55) rotate(0.05)">IgG-ADC</text>
<path d="M318.00,198.77 L319.38,198.77 L320.76,198.77 L322.15,198.77 L323.53,198.77 L324.91,198.77 L326.29,198.77 L327.67,198.77 L329.06,198.77 L330.44,198.77 L331.82,198.77 L333.20,198.77 L334.58,198.77 L335.97,198.77 L337.35,198.78 L338.73,198.78 L340.11,198.78 L341.49,198.78 L342.88,198.79 L344.26,198.79 L345.64,198.80 L347.02,198.80 L348.40,198.81 L349.79,198.82 L351.17,198.83 L352.55,198.85 L353.93,198.86 L355.31,198.88 L356.70,198.91 L358.08,198.94 L359.46,198.97 L360.84,199.01 L362.22,199.06 L363.61,199.12 L364.99,199.19 L366.37,199.28 L367.75,199.38 L369.13,199.50 L370.52,199.65 L371.90,199.82 L373.28,200.03 L374.66,200.28 L376.04,200.58 L377.43,200.94 L378.81,201.37 L380.19,201.88 L381.57,202.49 L382.96,203.20 L384.34,204.05 L385.72,205.06 L387.10,206.24 L388.48,207.62 L389.87,209.24 L391.25,211.11 L392.63,213.28 L394.01,215.76 L395.39,218.57 L396.78,221.75 L398.16,225.29 L399.54,229.19 L400.92,233.44 L402.30,238.00 L403.69,242.82 L405.07,247.85 L406.45,253.00 L407.83,258.20 L409.21,263.36 L410.60,268.39 L411.98,273.21 L413.36,277.77 L414.74,282.02 L416.12,285.92 L417.51,289.46 L418.89,292.64 L420.27,295.45 L421.65,297.93 L423.03,300.10 L424.42,301.97 L425.80,303.59 L427.18,304.97 L428.56,306.15 L429.94,307.16 L431.33,308.01 L432.71,308.72 L434.09,309.33 L435.47,309.84 L436.85,310.27 L438.24,310.63 L439.62,310.93 L441.00,311.18" stroke="#93661f" stroke-width="1.25" fill="none"/>
<path d="M318.00,197.90 C325.67,198.02 350.33,198.12 364.00,198.60 C377.67,199.08 389.68,199.90 400.00,200.80 C410.32,201.70 419.12,202.63 425.90,204.00 C432.68,205.37 438.23,208.17 440.70,209.00" stroke="#52a035" stroke-width="1.25" fill="none"/>
<path d="M318.00,206.66 L319.38,206.76 L320.76,206.87 L322.15,206.98 L323.53,207.11 L324.91,207.25 L326.29,207.40 L327.67,207.56 L329.06,207.74 L330.44,207.93 L331.82,208.14 L333.20,208.37 L334.58,208.62 L335.97,208.89 L337.35,209.18 L338.73,209.49 L340.11,209.84 L341.49,210.21 L342.88,210.61 L344.26,211.04 L345.64,211.51 L347.02,212.02 L348.40,212.57 L349.79,213.15 L351.17,213.79 L352.55,214.47 L353.93,215.21 L355.31,216.00 L356.70,216.84 L358.08,217.75 L359.46,218.72 L360.84,219.76 L362.22,220.86 L363.61,222.04 L364.99,223.28 L366.37,224.61 L367.75,226.01 L369.13,227.49 L370.52,229.05 L371.90,230.68 L373.28,232.40 L374.66,234.19 L376.04,236.06 L377.43,238.00 L378.81,240.01 L380.19,242.09 L381.57,244.23 L382.96,246.42 L384.34,248.67 L385.72,250.95 L387.10,253.27 L388.48,255.62 L389.87,257.98 L391.25,260.35 L392.63,262.73 L394.01,265.09 L395.39,267.44 L396.78,269.77 L398.16,272.05 L399.54,274.30 L400.92,276.50 L402.30,278.65 L403.69,280.73 L405.07,282.75 L406.45,284.70 L407.83,286.58 L409.21,288.38 L410.60,290.10 L411.98,291.75 L413.36,293.32 L414.74,294.80 L416.12,296.21 L417.51,297.54 L418.89,298.80 L420.27,299.99 L421.65,301.10 L423.03,302.14 L424.42,303.12 L425.80,304.03 L427.18,304.88 L428.56,305.68 L429.94,306.42 L431.33,307.11 L432.71,307.75 L434.09,308.35 L435.47,308.90 L436.85,309.41 L438.24,309.88 L439.62,310.32 L441.00,310.72" stroke="#c90d17" stroke-width="1.25" fill="none"/>
<path d="M341.40,209.33 L342.89,211.55 L344.39,214.30 L345.88,217.65 L347.38,221.68 L348.87,226.42 L350.37,231.88 L351.86,238.00 L353.36,244.66 L354.85,251.67 L356.34,258.81 L357.84,265.82 L359.33,272.48 L360.83,278.60 L362.32,284.06 L363.82,288.81 L365.31,292.85 L366.80,296.20 L368.30,298.95 L369.79,301.17 L371.29,302.94 L372.78,304.34 L374.28,305.45 L375.77,306.31 L377.27,306.99 L378.76,307.51 L380.25,307.91 L381.75,308.22 L383.24,308.47 L384.74,308.65 L386.23,308.79 L387.73,308.90 L389.22,308.99 L390.71,309.05 L392.21,309.10 L393.70,309.14 L395.20,309.17 L396.69,309.20 L398.19,309.21 L399.68,309.23 L401.18,309.24 L402.67,309.24 L404.16,309.25 L405.66,309.25 L407.15,309.26 L408.65,309.26 L410.14,309.26 L411.64,309.26 L413.13,309.27 L414.62,309.27 L416.12,309.27 L417.61,309.27 L419.11,309.27 L420.60,309.27 L422.10,309.27 L423.59,309.27 L425.09,309.27 L426.58,309.27 L428.07,309.27 L429.57,309.27 L431.06,309.27 L432.56,309.27 L434.05,309.27 L435.55,309.27 L437.04,309.27 L438.53,309.27 L440.03,309.27 L441.52,309.27 L443.02,309.27 L444.51,309.27 L446.01,309.27 L447.50,309.27 L449.00,309.27 L450.49,309.27 L451.98,309.27 L453.48,309.27 L454.97,309.27 L456.47,309.27 L457.96,309.27 L459.46,309.27 L460.95,309.27 L462.44,309.27 L463.94,309.27 L465.43,309.27 L466.93,309.27 L468.42,309.27 L469.92,309.27 L471.41,309.27 L472.91,309.27 L474.40,309.27" stroke="#1f3290" stroke-width="1.25" fill="none"/>
<path d="M318.00,190.30V205.60M316.40,190.30H319.60M316.40,205.60H319.60" stroke="#93661f" stroke-width="0.9" fill="none"/>
<path d="M343.50,187.90V205.90M341.90,187.90H345.10M341.90,205.90H345.10" stroke="#93661f" stroke-width="0.9" fill="none"/>
<path d="M369.50,195.50V208.30M367.90,195.50H371.10M367.90,208.30H371.10" stroke="#93661f" stroke-width="0.9" fill="none"/>
<path d="M394.50,214.00V223.50M392.90,214.00H396.10M392.90,223.50H396.10" stroke="#93661f" stroke-width="0.9" fill="none"/>
<path d="M402.50,233.50V240.50M400.90,233.50H404.10M400.90,240.50H404.10" stroke="#93661f" stroke-width="0.9" fill="none"/>
<path d="M410.50,264.50V270.50M408.90,264.50H412.10M408.90,270.50H412.10" stroke="#93661f" stroke-width="0.9" fill="none"/>
<rect x="315.95" y="195.45" width="4.10" height="4.10" fill="none" stroke="#93661f" stroke-width="1.1"/>
<rect x="341.45" y="195.05" width="4.10" height="4.10" fill="none" stroke="#93661f" stroke-width="1.1"/>
<rect x="367.45" y="199.85" width="4.10" height="4.10" fill="none" stroke="#93661f" stroke-width="1.1"/>
<rect x="392.45" y="216.45" width="4.10" height="4.10" fill="none" stroke="#93661f" stroke-width="1.1"/>
<rect x="400.45" y="235.15" width="4.10" height="4.10" fill="none" stroke="#93661f" stroke-width="1.1"/>
<rect x="408.45" y="265.65" width="4.10" height="4.10" fill="none" stroke="#93661f" stroke-width="1.1"/>
<rect x="416.55" y="290.45" width="4.10" height="4.10" fill="none" stroke="#93661f" stroke-width="1.1"/>
<rect x="423.95" y="303.25" width="4.10" height="4.10" fill="none" stroke="#93661f" stroke-width="1.1"/>
<rect x="438.95" y="307.75" width="4.10" height="4.10" fill="none" stroke="#93661f" stroke-width="1.1"/>
<path d="M318.00,193.30V201.00M316.40,193.30H319.60M316.40,201.00H319.60" stroke="#52a035" stroke-width="0.9" fill="none"/>
<path d="M333.70,188.50V206.70M332.10,188.50H335.30M332.10,206.70H335.30" stroke="#52a035" stroke-width="0.9" fill="none"/>
<path d="M348.60,187.90V204.60M347.00,187.90H350.20M347.00,204.60H350.20" stroke="#52a035" stroke-width="0.9" fill="none"/>
<path d="M364.20,192.20V199.00M362.60,192.20H365.80M362.60,199.00H365.80" stroke="#52a035" stroke-width="0.9" fill="none"/>
<path d="M395.00,195.20V203.80M393.40,195.20H396.60M393.40,203.80H396.60" stroke="#52a035" stroke-width="0.9" fill="none"/>
<path d="M425.90,194.30V208.10M424.30,194.30H427.50M424.30,208.10H427.50" stroke="#52a035" stroke-width="0.9" fill="none"/>
<path d="M440.70,208.00V212.00M439.10,208.00H442.30M439.10,212.00H442.30" stroke="#52a035" stroke-width="0.9" fill="none"/>
<path d="M315.35,200.35L320.65,200.35L318.60,195.40L317.40,195.40Z" fill="#52a035"/>
<path d="M331.05,200.25L336.35,200.25L334.30,195.30L333.10,195.30Z" fill="#52a035"/>
<path d="M345.95,199.45L351.25,199.45L349.20,194.50L348.00,194.50Z" fill="#52a035"/>
<path d="M361.55,198.25L366.85,198.25L364.80,193.30L363.60,193.30Z" fill="#52a035"/>
<path d="M376.55,205.15L381.85,205.15L379.80,200.20L378.60,200.20Z" fill="#52a035"/>
<path d="M392.35,201.35L397.65,201.35L395.60,196.40L394.40,196.40Z" fill="#52a035"/>
<path d="M407.55,204.25L412.85,204.25L410.80,199.30L409.60,199.30Z" fill="#52a035"/>
<path d="M423.25,204.75L428.55,204.75L426.50,199.80L425.30,199.80Z" fill="#52a035"/>
<path d="M438.05,213.75L443.35,213.75L441.30,208.80L440.10,208.80Z" fill="#52a035"/>
<path d="M318.00,196.00V205.00M316.40,196.00H319.60M316.40,205.00H319.60" stroke="#c90d17" stroke-width="0.9" fill="none"/>
<path d="M333.30,208.00V216.50M331.70,208.00H334.90M331.70,216.50H334.90" stroke="#c90d17" stroke-width="0.9" fill="none"/>
<path d="M364.40,218.00V233.80M362.80,218.00H366.00M362.80,233.80H366.00" stroke="#c90d17" stroke-width="0.9" fill="none"/>
<path d="M379.80,226.60V235.00M378.20,226.60H381.40M378.20,235.00H381.40" stroke="#c90d17" stroke-width="0.9" fill="none"/>
<rect x="315.55" y="197.55" width="4.90" height="4.90" fill="#c90d17"/>
<rect x="330.85" y="209.65" width="4.90" height="4.90" fill="#c90d17"/>
<rect x="346.25" y="214.35" width="4.90" height="4.90" fill="#c90d17"/>
<rect x="361.95" y="223.55" width="4.90" height="4.90" fill="#c90d17"/>
<rect x="377.35" y="229.85" width="4.90" height="4.90" fill="#c90d17"/>
<rect x="391.95" y="270.05" width="4.90" height="4.90" fill="#c90d17"/>
<rect x="407.85" y="284.75" width="4.90" height="4.90" fill="#c90d17"/>
<rect x="423.15" y="302.95" width="4.90" height="4.90" fill="#c90d17"/>
<rect x="438.55" y="307.35" width="4.90" height="4.90" fill="#c90d17"/>
<path d="M341.40,202.40V214.30M339.80,202.40H343.00M339.80,214.30H343.00" stroke="#1f3290" stroke-width="0.9" fill="none"/>
<path d="M366.70,291.00V297.50M365.10,291.00H368.30M365.10,297.50H368.30" stroke="#1f3290" stroke-width="0.9" fill="none"/>
<circle cx="341.40" cy="208.30" r="2.4" fill="#1f3290"/>
<circle cx="366.70" cy="294.20" r="2.4" fill="#1f3290"/>
<circle cx="382.00" cy="308.10" r="2.4" fill="#1f3290"/>
<circle cx="397.50" cy="309.20" r="2.4" fill="#1f3290"/>
<circle cx="412.90" cy="310.30" r="2.4" fill="#1f3290"/>
<circle cx="428.30" cy="310.50" r="2.4" fill="#1f3290"/>
<circle cx="443.50" cy="309.30" r="2.4" fill="#1f3290"/>
<circle cx="459.00" cy="308.75" r="2.4" fill="#1f3290"/>
<circle cx="474.40" cy="307.50" r="2.4" fill="#1f3290"/>
</svg></body></html>
